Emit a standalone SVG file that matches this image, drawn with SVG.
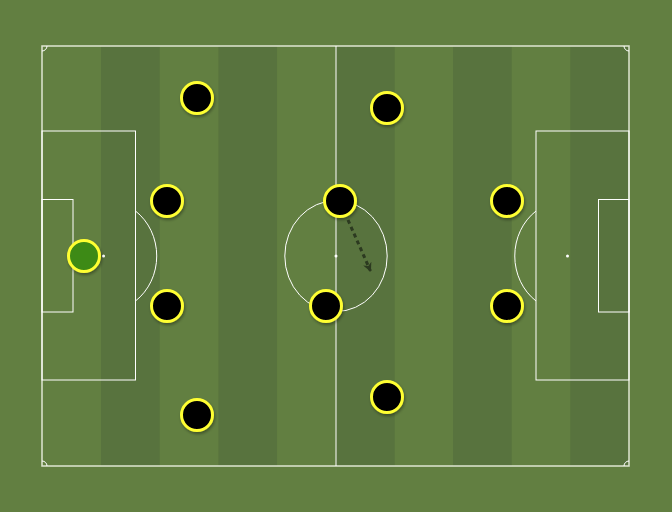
<svg xmlns="http://www.w3.org/2000/svg" width="672" height="512" viewBox="0 0 672 512">
<style>
.light{fill:#627f41}
.dark{fill:#58733e}
.line{fill:none;stroke:#ffffff;stroke-width:1}
.outer{fill:none;stroke:#dfe6d2;stroke-width:1.5}
.player{stroke:#ffff33;stroke-width:3;filter:url(#sh)}
.conn{fill:none;stroke:#2c3a20;stroke-width:3;stroke-dasharray:4 3.5}
</style>
<defs>
<filter id="sh" x="-50%" y="-50%" width="200%" height="200%">
<feDropShadow dx="1" dy="2" stdDeviation="1.5" flood-color="#000" flood-opacity="0.35"/>
</filter>
<marker id="ah" viewBox="0 0 10 10" refX="9" refY="5" markerWidth="3" markerHeight="3" orient="auto" markerUnits="strokeWidth">
<path d="M0,0 L10,5 L0,10 L3,5 Z" fill="#2c3a20"/>
</marker>
</defs>
<rect width="672" height="512" class="light"/>
<g id="stripes">
<rect x="101" y="46" width="58.7" height="420" class="dark"/>
<rect x="218.4" y="46" width="58.7" height="420" class="dark"/>
<rect x="336" y="46" width="58.7" height="420" class="dark"/>
<rect x="453" y="46" width="58.7" height="420" class="dark"/>
<rect x="570.3" y="46" width="58.7" height="420" class="dark"/>
</g>
<g id="pitch">
<rect x="42" y="46" width="587" height="420" class="outer"/>
<line x1="336" y1="46" x2="336" y2="466" class="line"/>
<ellipse cx="336" cy="256" rx="51.2" ry="55.5" class="line"/>
<circle cx="336" cy="256" r="1.5" fill="#fff"/>
<rect x="42" y="131" width="93.5" height="249" class="line"/>
<rect x="42" y="199.5" width="31" height="112.5" class="line"/>
<circle cx="103.5" cy="256" r="1.5" fill="#fff"/>
<path d="M135.5,211 A51.2,55.5 0 0 1 135.5,301" class="line"/>
<rect x="536" y="131" width="93" height="249" class="line"/>
<rect x="598.5" y="199.5" width="30.5" height="112.5" class="line"/>
<circle cx="567.5" cy="256" r="1.5" fill="#fff"/>
<path d="M536,211 A51.2,55.5 0 0 0 536,301" class="line"/>
<path d="M42,51 A5,5 0 0 0 47,46" class="line"/>
<path d="M624,46 A5,5 0 0 0 629,51" class="line"/>
<path d="M42,461 A5,5 0 0 1 47,466" class="line"/>
<path d="M624,466 A5,5 0 0 1 629,461" class="line"/>
</g>
<g id="connectors">
<path d="M348,220 L370.5,271" class="conn" marker-end="url(#ah)"/>
</g>
<g id="gk"><circle cx="84" cy="256" r="15.5" fill="#3c8a14" class="player"/></g>
<g id="p1"><circle cx="197" cy="98" r="15.5" fill="#000" class="player"/></g>
<g id="p2"><circle cx="387" cy="108" r="15.5" fill="#000" class="player"/></g>
<g id="p3"><circle cx="167" cy="201" r="15.5" fill="#000" class="player"/></g>
<g id="p4"><circle cx="340" cy="201" r="15.5" fill="#000" class="player"/></g>
<g id="p5"><circle cx="507" cy="201" r="15.5" fill="#000" class="player"/></g>
<g id="p6"><circle cx="167" cy="306" r="15.5" fill="#000" class="player"/></g>
<g id="p7"><circle cx="326" cy="306" r="15.5" fill="#000" class="player"/></g>
<g id="p8"><circle cx="507" cy="306" r="15.5" fill="#000" class="player"/></g>
<g id="p9"><circle cx="197" cy="415" r="15.5" fill="#000" class="player"/></g>
<g id="p10"><circle cx="387" cy="397" r="15.5" fill="#000" class="player"/></g>
</svg>
